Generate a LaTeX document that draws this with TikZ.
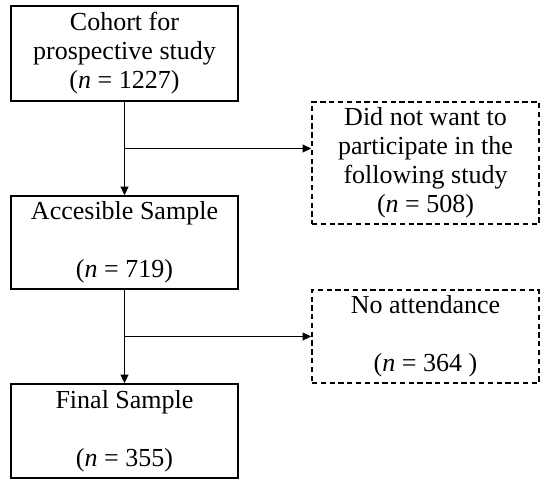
\documentclass[tikz,border=0pt]{standalone}
\usepackage{fontspec}
\setmainfont{Liberation Serif}
\usetikzlibrary{arrows.meta,calc}

\begin{document}
\begin{tikzpicture}[font=\fontsize{14.8}{16.5}\selectfont, line width=0.8pt]

% Sizes
\def\boxw{4.54}
\def\leftx{2.49}
\def\rightx{8.51}

\tikzset{
  stagebox/.style={draw, minimum width=\boxw cm, align=center, inner sep=0pt},
  dropbox/.style={stagebox, dash pattern=on 3pt off 2pt},
  flow/.style={-{Triangle[length=5pt,width=4.5pt]}}
}

\useasboundingbox (0,0) rectangle (11,-9.78);

% Main stages
\node[stagebox, minimum height=1.9cm] (cohort) at (\leftx,-1.07)
      {Cohort for\\prospective study\\(\textit{n} = 1227)};
\node[stagebox, minimum height=1.86cm] (access) at (\leftx,-4.85)
      {Accesible Sample\\[16.5pt](\textit{n} = 719)};
\node[stagebox, minimum height=1.88cm] (final) at (\leftx,-8.62)
      {Final Sample\\[16.5pt](\textit{n} = 355)};

% Excluded
\node[dropbox, minimum height=2.44cm] (refused) at (\rightx,-3.26)
      {Did not want to\\participate in the\\following study\\(\textit{n} = 508)};
\node[dropbox, minimum height=1.86cm] (absent) at (\rightx,-6.73)
      {No attendance\\[16.5pt](\textit{n} = 364 )};

% Connectors
\coordinate (split1) at ($(cohort.south)!0.5!(access.north)$);
\coordinate (split2) at ($(access.south)!0.5!(final.north)$);
\draw[flow] (cohort) -- (access);
\draw[flow] (access) -- (final);
\draw[flow] (split1) -- (split1 -| refused.west);
\draw[flow] (split2) -- (split2 -| absent.west);

\end{tikzpicture}
\end{document}
